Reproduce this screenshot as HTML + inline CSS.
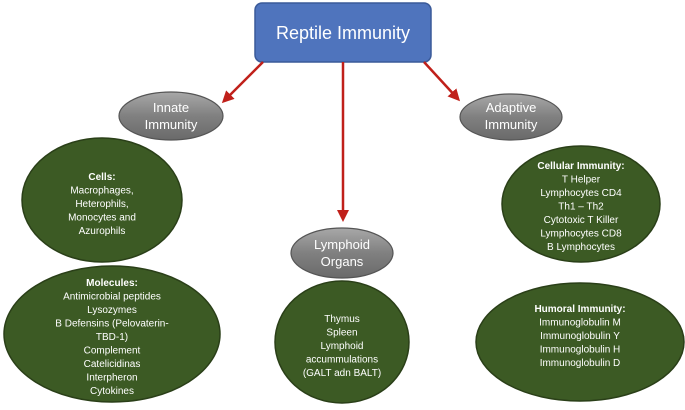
<!DOCTYPE html>
<html><head><meta charset="utf-8"><style>
body{margin:0;width:685px;height:405px;background:#fff;overflow:hidden}
</style></head><body>
<svg width="685" height="405" xmlns="http://www.w3.org/2000/svg" font-family="Liberation Sans, sans-serif">
<defs>
<linearGradient id="g" x1="0" y1="0" x2="0" y2="1"><stop offset="0" stop-color="#a8a8a8"/><stop offset="0.5" stop-color="#808080"/><stop offset="1" stop-color="#6a6a6a"/></linearGradient>
<marker id="a" markerWidth="12" markerHeight="12" refX="9" refY="6" orient="auto" markerUnits="userSpaceOnUse"><path d="M0,0 L12,6 L0,12 z" fill="#c0201a"/></marker>
</defs>
<rect x="255" y="3" width="176" height="59" rx="7" fill="#4f74bd" stroke="#3a5a99" stroke-width="1.5"/>
<text x="343" y="39" font-size="18" fill="#fff" text-anchor="middle">Reptile Immunity</text>
<g stroke="#c0201a" stroke-width="2.5" fill="none">
<line x1="263" y1="62" x2="224" y2="101" marker-end="url(#a)"/>
<line x1="424" y1="62" x2="458" y2="99" marker-end="url(#a)"/>
<line x1="343" y1="62" x2="343" y2="219" marker-end="url(#a)"/>
</g>
<g stroke="#555" stroke-width="1.2" fill="url(#g)">
<ellipse cx="171" cy="116" rx="52" ry="24"/>
<ellipse cx="511" cy="117" rx="51" ry="23"/>
<ellipse cx="342" cy="253" rx="51" ry="25"/>
</g>
<g fill="#fff" font-size="13" text-anchor="middle">
<text x="171" y="112">Innate</text><text x="171" y="129">Immunity</text>
<text x="511" y="112">Adaptive</text><text x="511" y="129">Immunity</text>
<text x="342" y="249">Lymphoid</text><text x="342" y="266">Organs</text>
</g>
<g fill="#3c5a24" stroke="#2a3f18" stroke-width="1.5">
<ellipse cx="102" cy="200" rx="80" ry="62"/>
<ellipse cx="112" cy="334" rx="108" ry="68"/>
<ellipse cx="342" cy="342" rx="67" ry="61"/>
<ellipse cx="581" cy="204" rx="79" ry="58"/>
<ellipse cx="580" cy="342" rx="104" ry="59"/>
</g>
<g fill="#fff" font-size="10" text-anchor="middle">
<text x="102" y="180"><tspan font-weight="bold">Cells:</tspan><tspan x="102" dy="13.5">Macrophages,</tspan><tspan x="102" dy="13.5">Heterophils,</tspan><tspan x="102" dy="13.5">Monocytes and</tspan><tspan x="102" dy="13.5">Azurophils</tspan></text>
<text x="112" y="286"><tspan font-weight="bold">Molecules:</tspan><tspan x="112" dy="13.5">Antimicrobial peptides</tspan><tspan x="112" dy="13.5">Lysozymes</tspan><tspan x="112" dy="13.5">B Defensins (Pelovaterin-</tspan><tspan x="112" dy="13.5">TBD-1)</tspan><tspan x="112" dy="13.5">Complement</tspan><tspan x="112" dy="13.5">Catelicidinas</tspan><tspan x="112" dy="13.5">Interpheron</tspan><tspan x="112" dy="13.5">Cytokines</tspan></text>
<text x="342" y="322">Thymus<tspan x="342" dy="13.5">Spleen</tspan><tspan x="342" dy="13.5">Lymphoid</tspan><tspan x="342" dy="13.5">accummulations</tspan><tspan x="342" dy="13.5">(GALT adn BALT)</tspan></text>
<text x="581" y="169"><tspan font-weight="bold">Cellular Immunity:</tspan><tspan x="581" dy="13.5">T Helper</tspan><tspan x="581" dy="13.5">Lymphocytes CD4</tspan><tspan x="581" dy="13.5">Th1 – Th2</tspan><tspan x="581" dy="13.5">Cytotoxic T Killer</tspan><tspan x="581" dy="13.5">Lymphocytes CD8</tspan><tspan x="581" dy="13.5">B Lymphocytes</tspan></text>
<text x="580" y="312"><tspan font-weight="bold">Humoral Immunity:</tspan><tspan x="580" dy="13.5">Immunoglobulin M</tspan><tspan x="580" dy="13.5">Immunoglobulin Y</tspan><tspan x="580" dy="13.5">Immunoglobulin H</tspan><tspan x="580" dy="13.5">Immunoglobulin D</tspan></text>
</g>
</svg>
</body></html>
